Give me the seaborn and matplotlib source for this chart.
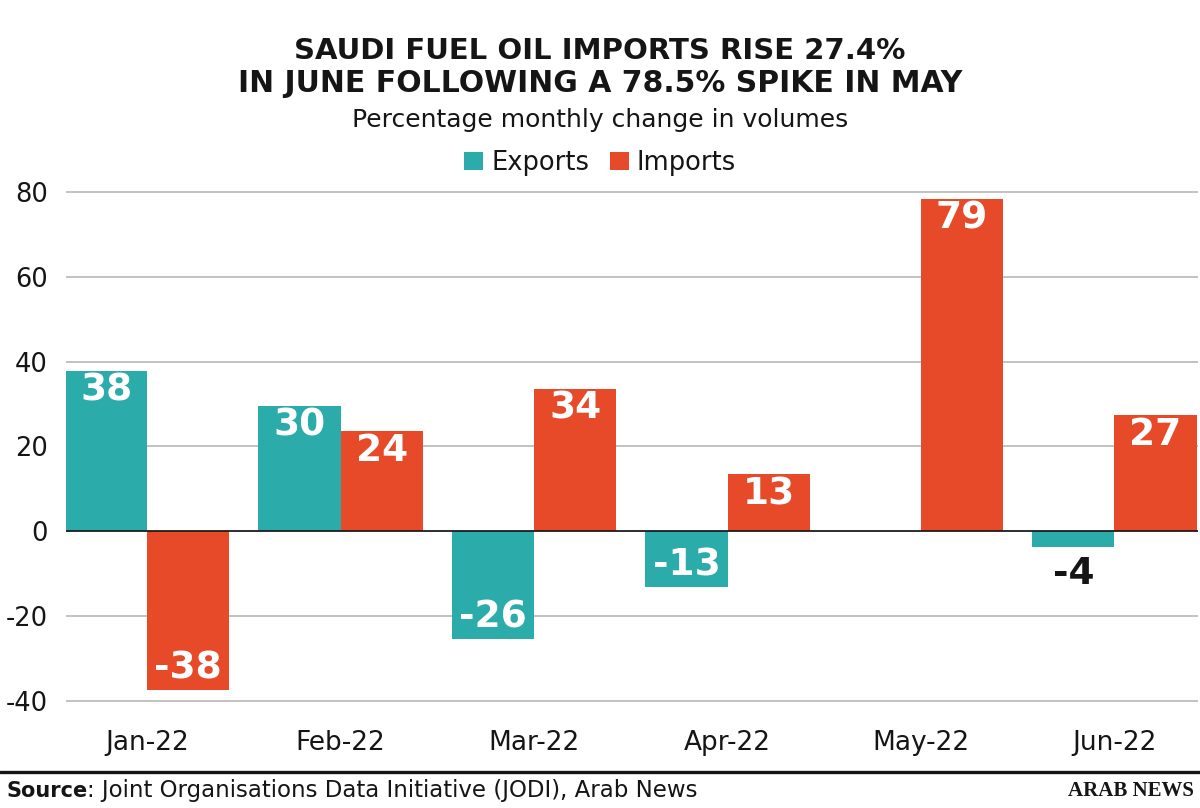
import numpy as np
import pandas as pd
import matplotlib
matplotlib.use("Agg")
import matplotlib.pyplot as plt
from matplotlib.lines import Line2D
import seaborn as sns

# Data
months = ["Jan-22", "Feb-22", "Mar-22", "Apr-22", "May-22", "Jun-22"]
exports = [37.9, 29.6, -25.5, -13.3, np.nan, -3.8]
imports = [-37.6, 23.6, 33.6, 13.4, 78.5, 27.4]
series = ["Exports", "Imports"]
yticks = [-40, -20, 0, 20, 40, 60, 80]

TEAL = "#2BACAA"
ORANGE = "#E64A28"
INK = "#151515"

df = pd.DataFrame({
    "month": months * 2,
    "series": ["Exports"] * len(months) + ["Imports"] * len(months),
    "value": exports + imports,
})


def fmt(v):
    # round half away from zero, like the source labels (78.5 -> 79)
    return str(int(np.sign(v) * np.floor(abs(v) + 0.5)))


sns.set_theme(style="white")
plt.rcParams["font.family"] = ["DejaVu Sans"]

fig = plt.figure(figsize=(12, 8.08), dpi=100)
ax = fig.add_axes([0.055, 0.112, 0.943, 0.671])

sns.barplot(data=df, x="month", y="value", hue="series", hue_order=series,
            palette=[TEAL, ORANGE], width=0.85, saturation=1, ax=ax,
            edgecolor="none", linewidth=0, legend=True)

ax.set_xlim(-0.42, 5.43)
ax.set_ylim(-44, 84)
ax.set_yticks(yticks)
ax.set_yticklabels([str(t) for t in yticks])
ax.set_xlabel("")
ax.set_ylabel("")
ax.grid(axis="y", color="#b8b8b8", linewidth=1.2)
ax.set_axisbelow(True)
ax.axhline(0, color=INK, linewidth=1.2, zorder=3)
for s in ax.spines.values():
    s.set_visible(False)
ax.tick_params(axis="x", length=0, pad=9, labelsize=19, colors=INK)
ax.tick_params(axis="y", length=0, pad=13, labelsize=18.5, colors=INK)

# value labels
for container in ax.containers:
    for bar in container:
        h = bar.get_height()
        if np.isnan(h) or h == 0:
            continue
        xc = bar.get_x() + bar.get_width() / 2
        if abs(h) < 6:
            ax.annotate(fmt(h), (xc, h), xytext=(0, -27), textcoords="offset pixels",
                        ha="center", va="center", fontsize=27, fontweight="heavy",
                        color=INK)
        else:
            off = -20 if h > 0 else 22
            ax.annotate(fmt(h), (xc, h), xytext=(0, off), textcoords="offset pixels",
                        ha="center", va="center", fontsize=27, fontweight="heavy",
                        color="white")

# legend
handles, labels = ax.get_legend_handles_labels()
ax.legend(handles, labels, loc="center", bbox_to_anchor=(0.5, 1 - 163 / 808),
          bbox_transform=fig.transFigure, ncol=2, frameon=False, fontsize=18.5,
          handlelength=0.75, handleheight=0.75, handletextpad=0.3, columnspacing=0.8,
          labelcolor=INK)

# titles
fig.text(0.5, 1 - 51 / 808, "SAUDI FUEL OIL IMPORTS RISE 27.4%", ha="center", va="center",
         fontsize=21, fontweight="bold", color=INK)
fig.text(0.5, 1 - 83 / 808, "IN JUNE FOLLOWING A 78.5% SPIKE IN MAY", ha="center", va="center",
         fontsize=21.5, fontweight="bold", color=INK)
fig.text(0.5, 1 - 120 / 808, "Percentage monthly change in volumes", ha="center", va="center",
         fontsize=18, color=INK)

# footer
fig.add_artist(Line2D([0, 1], [1 - 772 / 808] * 2, color=INK, linewidth=2.4,
                      transform=fig.transFigure))
src = fig.text(0.005, 1 - 791 / 808, "Source", ha="left", va="center", fontsize=15,
               fontweight="bold", color=INK)
fig.canvas.draw()
bb = src.get_window_extent().transformed(fig.transFigure.inverted())
fig.text(bb.x1, 1 - 791 / 808, ": Joint Organisations Data Initiative (JODI), Arab News",
         ha="left", va="center", fontsize=16.5, color=INK)
fig.text(0.995, 1 - 791 / 808, "ARAB NEWS", ha="right", va="center", fontsize=15,
         fontweight="bold", color=INK, family=["Liberation Serif", "DejaVu Serif"])

fig.savefig("out.png", dpi=100)
